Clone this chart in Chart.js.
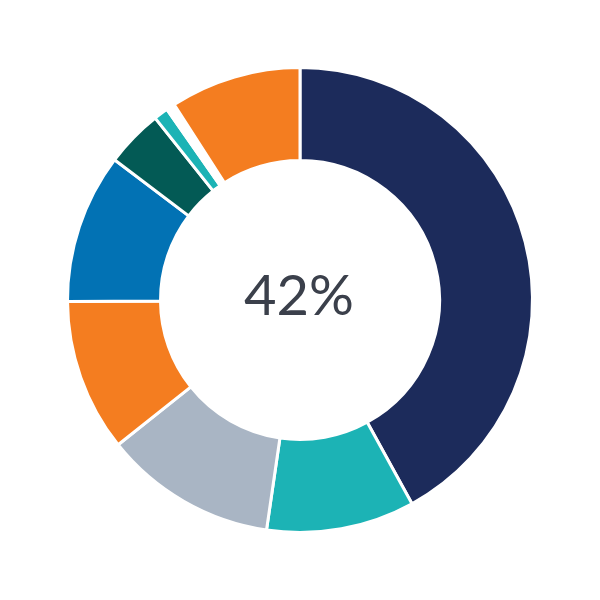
<!DOCTYPE html>
<html>
<head>
<meta charset="utf-8">
<script src="https://cdn.jsdelivr.net/npm/chart.js@4/dist/chart.umd.min.js"></script>
<style>
html,body{margin:0;padding:0;background:#fff;}
#wrap{width:600px;height:600px;position:relative;}
</style>
</head>
<body>
<div id="wrap"><canvas id="c" width="600" height="600"></canvas></div>
<script>
const categories = ["A","B","C","D","E","F","G","H","I"];
const values = [42, 10.3, 12, 10.6, 10.4, 4, 1, 0.6, 9.1];
const colors = ["#1c2b5b","#1cb3b5","#a9b5c4","#f47d20","#0272b4","#035a55","#1cb3b5","#ffffff","#f47d20"];
const centerLabel = "42%";

const centerText = {
  id: 'centerText',
  afterDraw(chart) {
    const ctx = chart.ctx;
    const m = chart.getDatasetMeta(0).data[0];
    ctx.save();
    ctx.font = '400 56px Lato, "Open Sans", sans-serif';
    ctx.fillStyle = '#3b404b';
    ctx.textAlign = 'center';
    ctx.textBaseline = 'middle';
    ctx.fillText(centerLabel, m.x - 1, m.y - 3);
    ctx.restore();
  }
};

new Chart(document.getElementById('c'), {
  type: 'doughnut',
  data: {
    labels: categories,
    datasets: [{
      data: values,
      backgroundColor: colors,
      borderColor: '#ffffff',
      borderWidth: 3
    }]
  },
  options: {
    responsive: false,
    animation: false,
    cutout: '60%',
    layout: { padding: 66 },
    plugins: { legend: { display: false }, tooltip: { enabled: false } }
  },
  plugins: [centerText]
});
</script>
</body>
</html>
